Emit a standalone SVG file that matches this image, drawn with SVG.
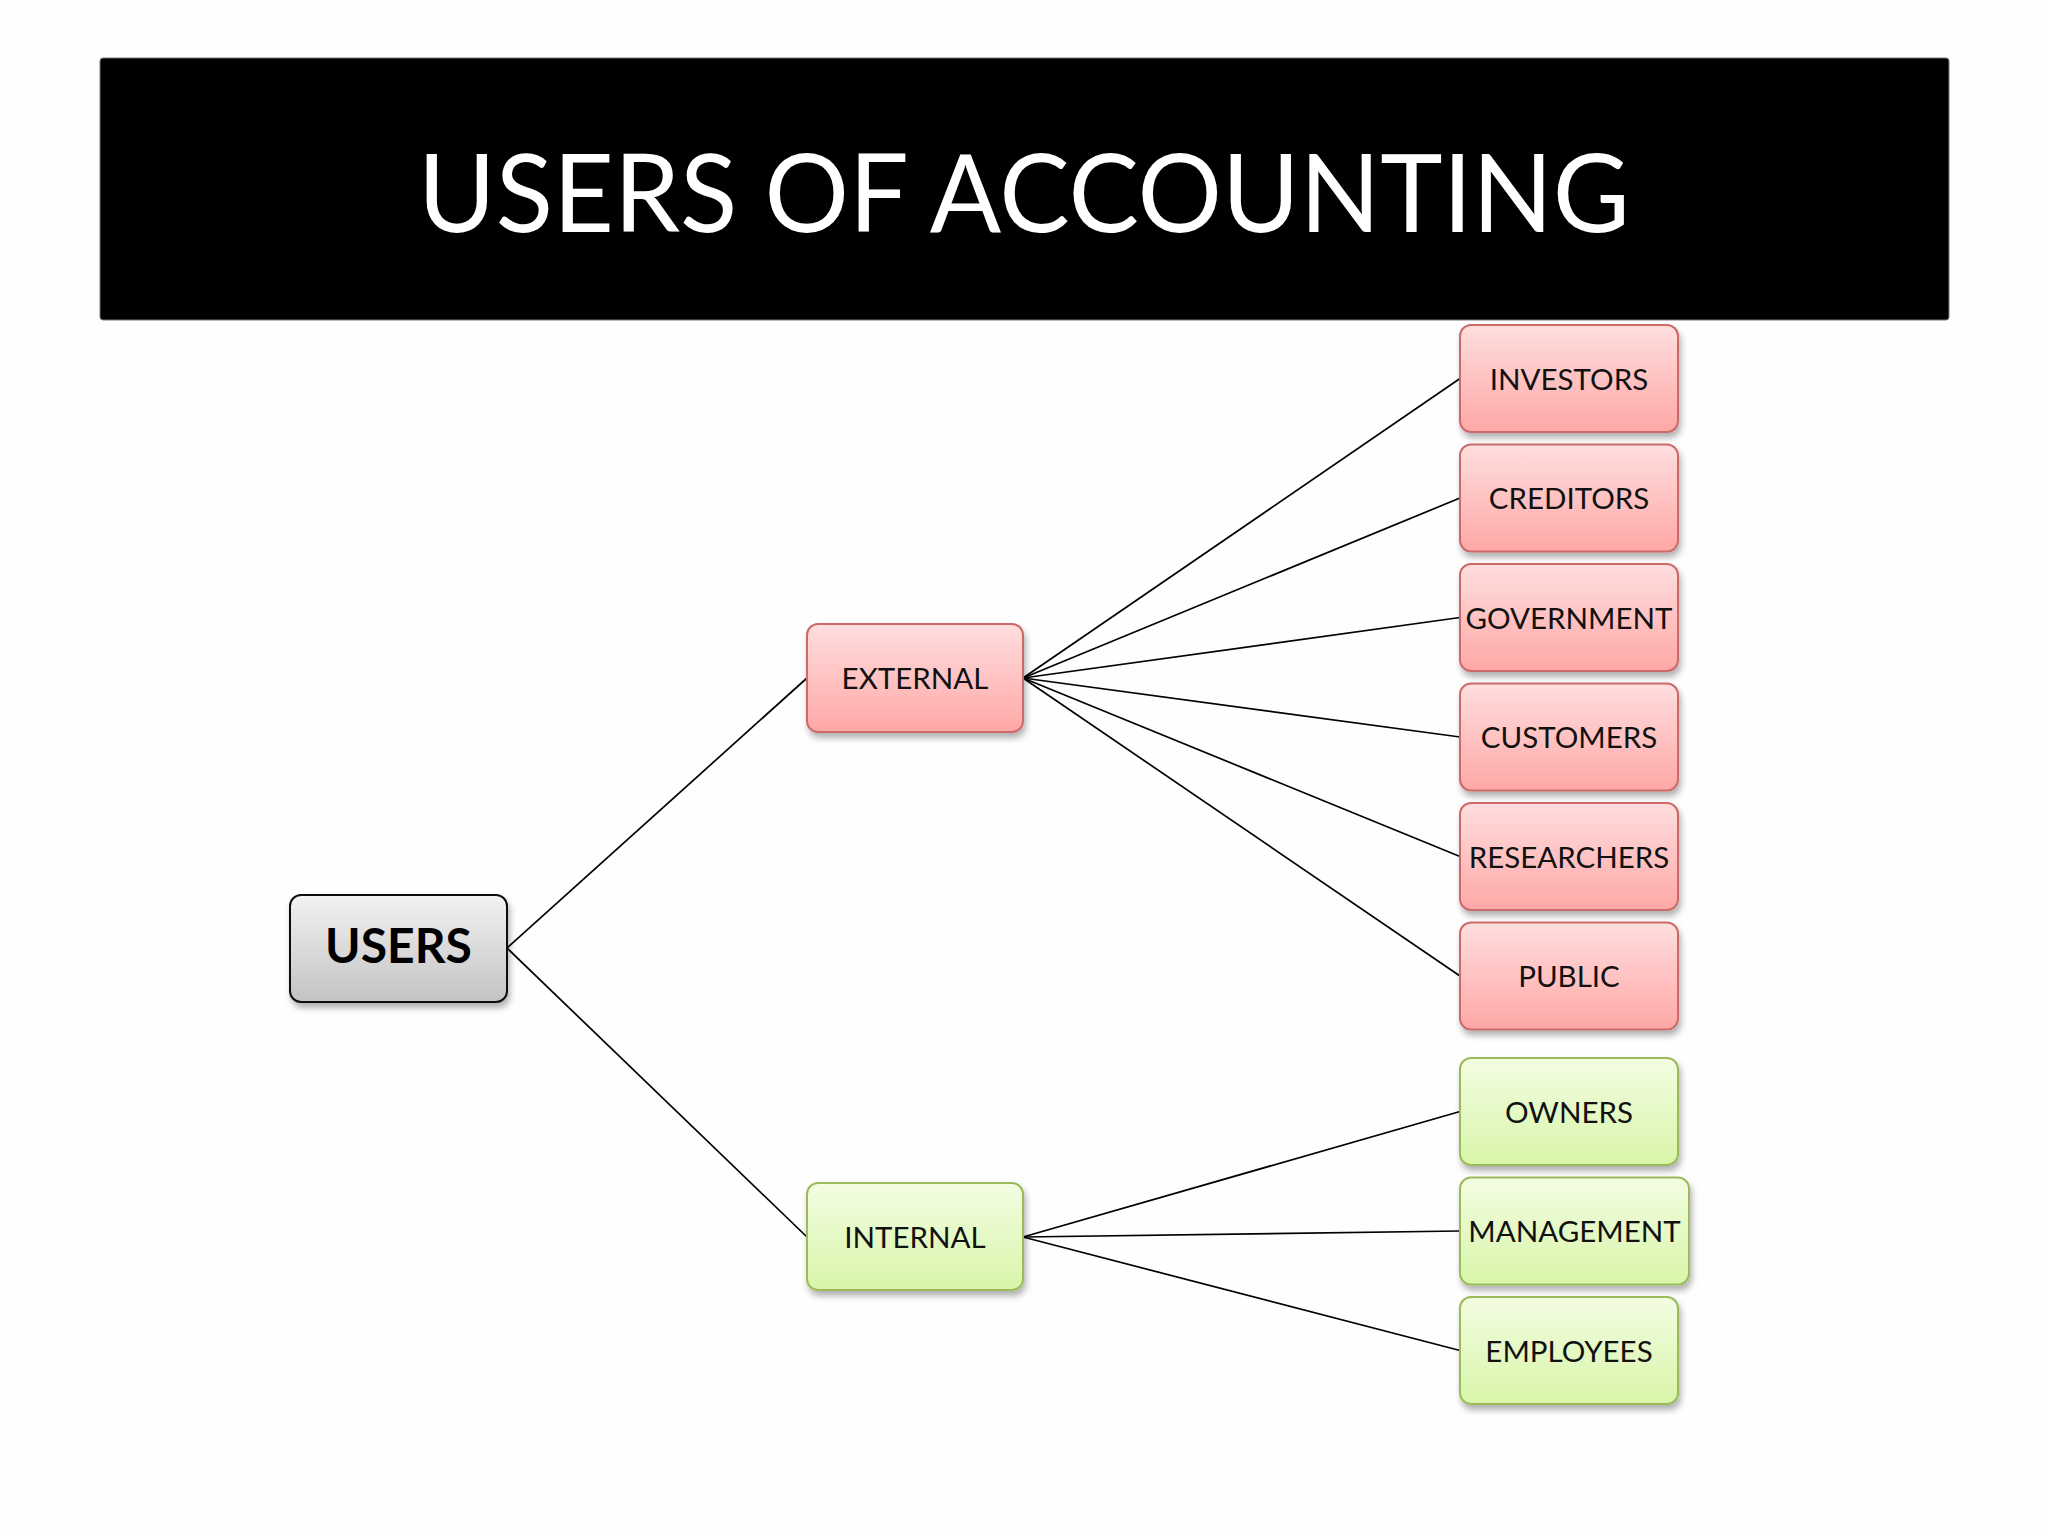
<svg xmlns="http://www.w3.org/2000/svg" width="2048" height="1536" viewBox="0 0 2048 1536">
<style>
.lbl{font-family:Lato,"Open Sans","Liberation Sans",sans-serif;font-size:29.5px;fill:#111;text-anchor:middle}
.ext{fill:url(#gPink);stroke:#cc6b6b;stroke-width:2}
.int{fill:url(#gGreen);stroke:#9bbb59;stroke-width:2}
.conn line{stroke:#000;stroke-width:1.7}
</style>
<defs>
<linearGradient id="gPink" x1="0" y1="0" x2="0" y2="1">
<stop offset="0" stop-color="#ffdede"/><stop offset="1" stop-color="#ffa7a7"/>
</linearGradient>
<linearGradient id="gGreen" x1="0" y1="0" x2="0" y2="1">
<stop offset="0" stop-color="#f3fde2"/><stop offset="1" stop-color="#d8f5a9"/>
</linearGradient>
<linearGradient id="gGray" x1="0" y1="0" x2="0" y2="1">
<stop offset="0" stop-color="#f2f2f2"/><stop offset="1" stop-color="#c3c3c3"/>
</linearGradient>
<filter id="sh" x="-10%" y="-10%" width="130%" height="140%">
<feDropShadow dx="2" dy="5" stdDeviation="3" flood-color="#000" flood-opacity="0.3"/>
</filter>
</defs>
<rect width="2048" height="1536" fill="#fefefe"/>
<g id="title">
<rect x="100" y="58" width="1849" height="262" rx="3" fill="#000" stroke="#777" stroke-width="1"/>
<text x="1024" y="232" font-family="Lato,'Open Sans','Liberation Sans',sans-serif" font-size="108" fill="#fff" text-anchor="middle" textLength="1212" lengthAdjust="spacingAndGlyphs">USERS OF ACCOUNTING</text>
</g>
<g class="conn" id="connectors">
<line x1="507" y1="948" x2="807" y2="678"/>
<line x1="507" y1="948" x2="807" y2="1237"/>
<line x1="1023" y1="678" x2="1460" y2="378.5"/>
<line x1="1023" y1="678" x2="1460" y2="498"/>
<line x1="1023" y1="678" x2="1460" y2="617.5"/>
<line x1="1023" y1="678" x2="1460" y2="737"/>
<line x1="1023" y1="678" x2="1460" y2="856.5"/>
<line x1="1023" y1="678" x2="1460" y2="976"/>
<line x1="1023" y1="1237" x2="1460" y2="1111.5"/>
<line x1="1023" y1="1237" x2="1460" y2="1231"/>
<line x1="1023" y1="1237" x2="1460" y2="1350.5"/>
</g>
<g id="users">
<rect x="290" y="895" width="217" height="107" rx="11" fill="url(#gGray)" stroke="#111" stroke-width="2" filter="url(#sh)"/>
<text x="398.5" y="963" font-family="Lato,'Open Sans','Liberation Sans',sans-serif" font-size="48" font-weight="bold" fill="#000" text-anchor="middle">USERS</text>
</g>
<g id="external">
<rect class="ext" x="807" y="624" width="216" height="108" rx="11" filter="url(#sh)"/>
<text class="lbl" x="915" y="689">EXTERNAL</text>
</g>
<g id="internal">
<rect class="int" x="807" y="1183" width="216" height="107" rx="11" filter="url(#sh)"/>
<text class="lbl" x="915" y="1248">INTERNAL</text>
</g>
<g id="investors">
<rect class="ext" x="1460" y="325" width="218" height="107" rx="11" filter="url(#sh)"/>
<text class="lbl" x="1569" y="389.5">INVESTORS</text>
</g>
<g id="creditors">
<rect class="ext" x="1460" y="444.5" width="218" height="107" rx="11" filter="url(#sh)"/>
<text class="lbl" x="1569" y="509">CREDITORS</text>
</g>
<g id="government">
<rect class="ext" x="1460" y="564" width="218" height="107" rx="11" filter="url(#sh)"/>
<text class="lbl" x="1569" y="628.5">GOVERNMENT</text>
</g>
<g id="customers">
<rect class="ext" x="1460" y="683.5" width="218" height="107" rx="11" filter="url(#sh)"/>
<text class="lbl" x="1569" y="748">CUSTOMERS</text>
</g>
<g id="researchers">
<rect class="ext" x="1460" y="803" width="218" height="107" rx="11" filter="url(#sh)"/>
<text class="lbl" x="1569" y="867.5">RESEARCHERS</text>
</g>
<g id="public">
<rect class="ext" x="1460" y="922.5" width="218" height="107" rx="11" filter="url(#sh)"/>
<text class="lbl" x="1569" y="987">PUBLIC</text>
</g>
<g id="owners">
<rect class="int" x="1460" y="1058" width="218" height="107" rx="11" filter="url(#sh)"/>
<text class="lbl" x="1569" y="1122.5">OWNERS</text>
</g>
<g id="management">
<rect class="int" x="1460" y="1177.5" width="229" height="107" rx="11" filter="url(#sh)"/>
<text class="lbl" x="1574.5" y="1242">MANAGEMENT</text>
</g>
<g id="employees">
<rect class="int" x="1460" y="1297" width="218" height="107" rx="11" filter="url(#sh)"/>
<text class="lbl" x="1569" y="1361.5">EMPLOYEES</text>
</g>
</svg>
